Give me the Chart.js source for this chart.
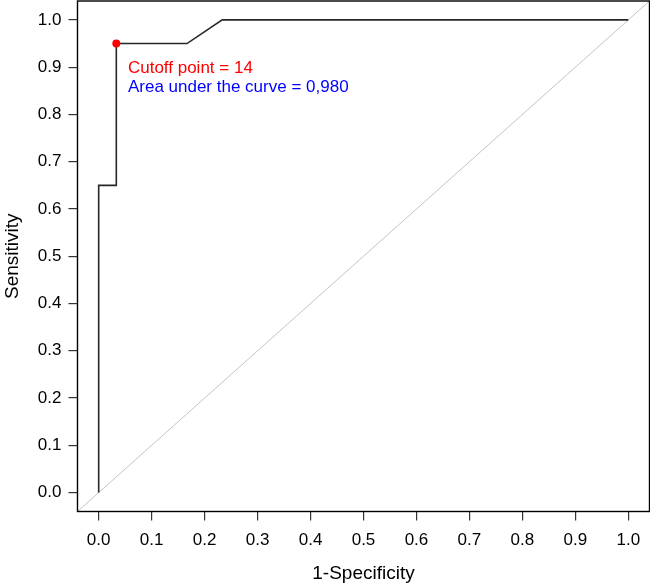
<!DOCTYPE html>
<html>
<head>
<meta charset="utf-8">
<script src="https://cdn.jsdelivr.net/npm/chart.js@4/dist/chart.umd.min.js"></script>
<style>
  html, body { margin: 0; padding: 0; background: #fff; }
  #wrap { width: 650px; height: 585px; }
</style>
</head>
<body>
<div id="wrap"><canvas id="c" width="650" height="585"></canvas></div>
<script>
// ROC curve data (1-Specificity, Sensitivity)
const fpr = [0, 0, 0.0333, 0.0333, 0.1667, 0.2333, 1.0];
const tpr = [0, 0.65, 0.65, 0.95, 0.95, 1.0, 1.0];
// Optimal cutoff point
const cutoffFpr = [0.0333];
const cutoffTpr = [0.95];
const cutoffLabel = "Cutoff point = 14";
const aucLabel = "Area under the curve = 0,980";
// Axes
const axisMin = -0.04;
const axisMax = 1.04;
const tickValues = [0, 0.1, 0.2, 0.3, 0.4, 0.5, 0.6, 0.7, 0.8, 0.9, 1.0];
const xTitle = "1-Specificity";
const yTitle = "Sensitivity";

const FONT = "'Liberation Sans', Arial, Helvetica, sans-serif";

const curve = fpr.map((v, i) => ({ x: v, y: tpr[i] }));
const cutoff = cutoffFpr.map((v, i) => ({ x: v, y: cutoffTpr[i] }));
const diagonal = [{ x: axisMin, y: axisMin }, { x: axisMax, y: axisMax }];

const framePlugin = {
  id: 'frame',
  afterDraw(chart) {
    const { ctx, chartArea: a } = chart;
    ctx.save();
    ctx.strokeStyle = '#000';
    ctx.lineWidth = 1.4;
    ctx.strokeRect(a.left, a.top, a.right - a.left, a.bottom - a.top);
    ctx.restore();
  }
};

const annotPlugin = {
  id: 'annot',
  afterDatasetsDraw(chart) {
    const { ctx, scales } = chart;
    const px = scales.x.getPixelForValue(cutoffFpr[0]);
    const py = scales.y.getPixelForValue(cutoffTpr[0]);
    ctx.save();
    ctx.font = "17px " + FONT;
    ctx.textAlign = 'left';
    ctx.textBaseline = 'alphabetic';
    ctx.fillStyle = '#ff0000';
    ctx.fillText(cutoffLabel, px + 11.6, py + 29);
    ctx.fillStyle = '#0000ff';
    ctx.fillText(aucLabel, px + 11.6, py + 48.3);
    ctx.restore();
  }
};

function setTicks(scale) {
  scale.ticks = tickValues.map(v => ({ value: v }));
}
function zeroPad(scale) {
  scale.paddingTop = 0;
  scale.paddingBottom = 0;
  scale.paddingLeft = 0;
  scale.paddingRight = 0;
}

new Chart(document.getElementById('c'), {
  type: 'scatter',
  data: {
    datasets: [
      {
        data: cutoff,
        showLine: false,
        pointRadius: 4,
        pointBackgroundColor: '#ff0000',
        pointBorderColor: '#ff0000',
        pointBorderWidth: 0,
        order: 0
      },
      {
        data: curve,
        showLine: true,
        borderColor: '#262626',
        borderWidth: 1.6,
        pointRadius: 0,
        tension: 0,
        fill: false,
        order: 1
      },
      {
        data: diagonal,
        showLine: true,
        borderColor: '#c4c4c4',
        borderWidth: 1,
        pointRadius: 0,
        tension: 0,
        fill: false,
        order: 2
      }
    ]
  },
  options: {
    responsive: false,
    animation: false,
    events: [],
    layout: { autoPadding: false, padding: { top: 1, right: 0.5, left: 0, bottom: 0 } },
    plugins: {
      legend: { display: false },
      tooltip: { enabled: false },
      title: { display: false }
    },
    scales: {
      x: {
        type: 'linear',
        min: axisMin,
        max: axisMax,
        afterBuildTicks: setTicks,
        afterFit(scale) { scale.height = 73.5; zeroPad(scale); },
        border: { display: false },
        grid: {
          drawOnChartArea: false,
          drawTicks: true,
          tickLength: 9,
          color: '#333',
          lineWidth: 1.2
        },
        ticks: {
          autoSkip: false,
          maxRotation: 0,
          padding: 10,
          color: '#000',
          font: { family: FONT, size: 17 },
          callback: v => Number(v).toFixed(1)
        },
        title: {
          display: true,
          text: xTitle,
          color: '#000',
          font: { family: FONT, size: 19 },
          padding: { top: 0, bottom: 0 }
        }
      },
      y: {
        type: 'linear',
        min: axisMin,
        max: axisMax,
        afterBuildTicks: setTicks,
        afterFit(scale) { scale.width = 77.5; zeroPad(scale); },
        border: { display: false },
        grid: {
          drawOnChartArea: false,
          drawTicks: true,
          tickLength: 9,
          color: '#333',
          lineWidth: 1.2
        },
        ticks: {
          autoSkip: false,
          padding: 7,
          color: '#000',
          font: { family: FONT, size: 17 },
          callback: v => Number(v).toFixed(1)
        },
        title: {
          display: true,
          text: yTitle,
          color: '#000',
          font: { family: FONT, size: 19 },
          padding: { top: 1, bottom: 0 }
        }
      }
    }
  },
  plugins: [framePlugin, annotPlugin]
});
</script>
</body>
</html>
